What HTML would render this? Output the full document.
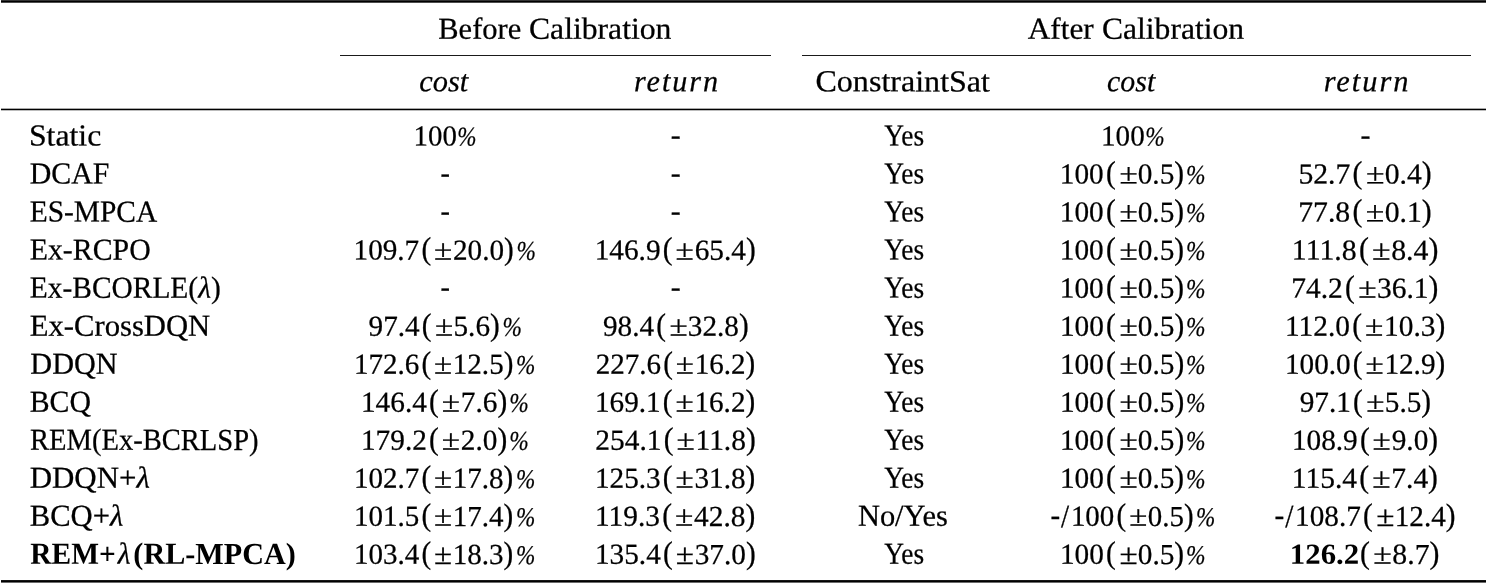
<!DOCTYPE html>
<html lang="en">
<head>
<meta charset="utf-8">
<title>Results table</title>
<style>
html,body{margin:0;padding:0;background:#fff;}
body{width:1488px;height:586px;overflow:hidden;position:relative;font-family:"Liberation Serif",serif;color:#000;}
#tbl{position:absolute;left:0;top:0;width:1488px;height:586px;overflow:hidden;}
.rule{position:absolute;background:#000;}
.r{position:absolute;left:0;width:1488px;height:38px;line-height:38px;}
.c{position:absolute;top:0;white-space:nowrap;transform-origin:0 50%;display:block;-webkit-text-stroke:.25px #000;}
.w{font-size:30.5px;}
.n{font-size:29.0px;}
.m{font-size:30.5px;font-style:italic;}
b{font-weight:bold;-webkit-text-stroke:0 transparent;}i{font-style:italic;}
.po{display:inline-block;margin:0 1.3px 0 2.2px;transform:scaleY(1.09);transform-origin:50% 35px;}.pe{display:inline-block;margin-right:2.4px;transform:scaleY(1.09);transform-origin:50% 35px;}
.pm{display:inline-block;width:18.1px;transform:scaleX(1.137);transform-origin:0 50%;margin:0 .5px 0 1.9px;}
.hy{position:relative;top:-.75px;}.sl{display:inline-block;margin:0 1.8px 0 1px;transform:translateY(1.55px) scaleY(1.13);transform-origin:50% 29px;}
.pc{display:inline-block;width:19.3px;transform:scale(.8,.93);transform-origin:0 29px;font-style:italic;}
</style>
</head>
<body>
<div id="tbl">
<div class="rule" style="left:1px;top:0;width:1485px;height:3px;background:linear-gradient(to bottom,#333 0 1px,#000 1px 2px,#4d4d4d 2px 3px)"></div>
<div class="rule" style="left:340px;top:55px;width:431px;height:1px;background:#1a1a1a"></div>
<div class="rule" style="left:802px;top:55px;width:669px;height:1px;background:#1a1a1a"></div>
<div class="rule" style="left:1px;top:108px;width:1485px;height:3px;background:linear-gradient(to bottom,#aaa 0 1px,#000 1px 2px,#bbb 2px 3px)"></div>
<div class="rule" style="left:1px;top:580px;width:1485px;height:3px;background:linear-gradient(to bottom,#141414 0 1px,#000 1px 2px,#6b6b6b 2px 3px)"></div>
<div class="r" style="top:9px"><span class="c w" id="h1a" style="left:438px;transform:translate(0.33px,0.70px) scaleX(0.9980) rotate(.05deg)">Before</span><span class="c w" id="h1a2" style="left:528px;transform:translate(0.96px,0.70px) scaleX(1.0382) rotate(.05deg)">Calibration</span><span class="c w" id="h1b" style="left:1027px;transform:translate(0.76px,0.70px) scaleX(1.0253) rotate(.05deg)">After</span><span class="c w" id="h1b2" style="left:1101px;transform:translate(0.92px,0.70px) scaleX(1.0365) rotate(.05deg)">Calibration</span></div>
<div class="r" style="top:62px"><span class="c m" id="h2a" style="left:419px;transform:translate(0.28px,0.30px) scaleX(0.9965) rotate(.05deg)">cost</span><span class="c m" id="h2b" style="left:634px;transform:translate(0.01px,0.30px) scaleX(0.9880) rotate(.05deg);letter-spacing:2.00px">return</span><span class="c w" id="h2c" style="left:815px;transform:translate(0.47px,0.30px) scaleX(1.0511) rotate(.05deg)">ConstraintSat</span><span class="c m" id="h2d" style="left:1107px;transform:translate(0.13px,0.30px) scaleX(0.9790) rotate(.05deg)">cost</span><span class="c m" id="h2e" style="left:1323px;transform:translate(0.65px,0.30px) scaleX(0.9965) rotate(.05deg);letter-spacing:2.00px">return</span></div>
<div class="r" style="top:116px"><span class="c w" id="a0" style="left:28px;transform:translate(0.94px,0.50px) scaleX(1.0412) rotate(.05deg)">Static</span><span class="c n" id="b0" style="left:413px;transform:translate(0.52px,0.50px) scaleX(0.9954) rotate(.05deg)">100<span class="pc">%</span></span><span class="c n" id="c0" style="left:670px;transform:translate(0.70px,0.50px) scaleX(1.0246) rotate(.05deg)"><span class="hy">-</span></span><span class="c w" id="d0" style="left:884px;transform:translate(0.26px,0.50px) scaleX(0.8973) rotate(.05deg)">Yes</span><span class="c n" id="e0" style="left:1101px;transform:translate(0.07px,0.50px) scaleX(1.0043) rotate(.05deg)">100<span class="pc">%</span></span><span class="c n" id="f0" style="left:1360px;transform:translate(0.55px,0.50px) scaleX(1.0309) rotate(.05deg)"><span class="hy">-</span></span></div>
<div class="r" style="top:154px"><span class="c w" id="a1" style="left:29px;transform:translate(0.76px,0.53px) scaleX(0.9783) rotate(.05deg)">DCAF</span><span class="c n" id="b1" style="left:440px;transform:translate(0.57px,0.53px) scaleX(0.9728) rotate(.05deg)"><span class="hy">-</span></span><span class="c n" id="c1" style="left:670px;transform:translate(0.70px,0.53px) scaleX(1.0246) rotate(.05deg)"><span class="hy">-</span></span><span class="c w" id="d1" style="left:884px;transform:translate(0.26px,0.53px) scaleX(0.8973) rotate(.05deg)">Yes</span><span class="c n" id="e1" style="left:1059px;transform:translate(0.85px,0.53px) scaleX(1.0091) rotate(.05deg)">100<span class="po">(</span><span class="pm">±</span>0.5<span class="pe">)</span><span class="pc">%</span></span><span class="c n" id="f1" style="left:1298px;transform:translate(0.40px,0.53px) scaleX(1.0228) rotate(.05deg)">52.7<span class="po">(</span><span class="pm">±</span>0.4<span class="pe">)</span></span></div>
<div class="r" style="top:192px"><span class="c w" id="a2" style="left:29px;transform:translate(0.80px,0.56px) scaleX(0.9634) rotate(.05deg)">ES-MPCA</span><span class="c n" id="b2" style="left:440px;transform:translate(0.57px,0.56px) scaleX(0.9728) rotate(.05deg)"><span class="hy">-</span></span><span class="c n" id="c2" style="left:670px;transform:translate(0.70px,0.56px) scaleX(1.0246) rotate(.05deg)"><span class="hy">-</span></span><span class="c w" id="d2" style="left:884px;transform:translate(0.26px,0.56px) scaleX(0.8973) rotate(.05deg)">Yes</span><span class="c n" id="e2" style="left:1059px;transform:translate(0.85px,0.56px) scaleX(1.0091) rotate(.05deg)">100<span class="po">(</span><span class="pm">±</span>0.5<span class="pe">)</span><span class="pc">%</span></span><span class="c n" id="f2" style="left:1298px;transform:translate(0.24px,0.56px) scaleX(1.0241) rotate(.05deg)">77.8<span class="po">(</span><span class="pm">±</span>0.1<span class="pe">)</span></span></div>
<div class="r" style="top:230px"><span class="c w" id="a3" style="left:29px;transform:translate(0.76px,0.59px) scaleX(0.9774) rotate(.05deg)">Ex-RCPO</span><span class="c n" id="b3" style="left:353px;transform:translate(0.60px,0.59px) scaleX(1.0052) rotate(.05deg)">109.7<span class="po">(</span><span class="pm">±</span>20.0<span class="pe">)</span><span class="pc">%</span></span><span class="c n" id="c3" style="left:594px;transform:translate(0.64px,0.59px) scaleX(1.0112) rotate(.05deg)">146.9<span class="po">(</span><span class="pm">±</span>65.4<span class="pe">)</span></span><span class="c w" id="d3" style="left:884px;transform:translate(0.26px,0.59px) scaleX(0.8973) rotate(.05deg)">Yes</span><span class="c n" id="e3" style="left:1059px;transform:translate(0.85px,0.59px) scaleX(1.0091) rotate(.05deg)">100<span class="po">(</span><span class="pm">±</span>0.5<span class="pe">)</span><span class="pc">%</span></span><span class="c n" id="f3" style="left:1291px;transform:translate(0.85px,0.59px) scaleX(1.0272) rotate(.05deg)">111.8<span class="po">(</span><span class="pm">±</span>8.4<span class="pe">)</span></span></div>
<div class="r" style="top:268px"><span class="c w" id="a4" style="left:29px;transform:translate(0.80px,0.62px) scaleX(0.9647) rotate(.05deg)">Ex-BCORLE(<i>λ</i>)</span><span class="c n" id="b4" style="left:440px;transform:translate(0.57px,0.62px) scaleX(0.9728) rotate(.05deg)"><span class="hy">-</span></span><span class="c n" id="c4" style="left:670px;transform:translate(0.70px,0.62px) scaleX(1.0246) rotate(.05deg)"><span class="hy">-</span></span><span class="c w" id="d4" style="left:884px;transform:translate(0.26px,0.62px) scaleX(0.8970) rotate(.05deg)">Yes</span><span class="c n" id="e4" style="left:1059px;transform:translate(0.85px,0.62px) scaleX(1.0091) rotate(.05deg)">100<span class="po">(</span><span class="pm">±</span>0.5<span class="pe">)</span><span class="pc">%</span></span><span class="c n" id="f4" style="left:1291px;transform:translate(0.26px,0.62px) scaleX(1.0159) rotate(.05deg)">74.2<span class="po">(</span><span class="pm">±</span>36.1<span class="pe">)</span></span></div>
<div class="r" style="top:306px"><span class="c w" id="a5" style="left:29px;transform:translate(0.81px,0.65px) scaleX(1.0045) rotate(.05deg)">Ex-CrossDQN</span><span class="c n" id="b5" style="left:368px;transform:translate(0.60px,0.65px) scaleX(1.0062) rotate(.05deg)">97.4<span class="po">(</span><span class="pm">±</span>5.6<span class="pe">)</span><span class="pc">%</span></span><span class="c n" id="c5" style="left:603px;transform:translate(0.01px,0.65px) scaleX(1.0057) rotate(.05deg)">98.4<span class="po">(</span><span class="pm">±</span>32.8<span class="pe">)</span></span><span class="c w" id="d5" style="left:884px;transform:translate(0.33px,0.65px) scaleX(0.8970) rotate(.05deg)">Yes</span><span class="c n" id="e5" style="left:1059px;transform:translate(0.90px,0.65px) scaleX(1.0097) rotate(.05deg)">100<span class="po">(</span><span class="pm">±</span>0.5<span class="pe">)</span><span class="pc">%</span></span><span class="c n" id="f5" style="left:1284px;transform:translate(0.97px,0.65px) scaleX(1.0127) rotate(.05deg)">112.0<span class="po">(</span><span class="pm">±</span>10.3<span class="pe">)</span></span></div>
<div class="r" style="top:344px"><span class="c w" id="a6" style="left:30px;transform:translate(0.37px,0.68px) scaleX(0.9893) rotate(.05deg)">DDQN</span><span class="c n" id="b6" style="left:353px;transform:translate(0.98px,0.68px) scaleX(1.0001) rotate(.05deg)">172.6<span class="po">(</span><span class="pm">±</span>12.5<span class="pe">)</span><span class="pc">%</span></span><span class="c n" id="c6" style="left:595px;transform:translate(0.64px,0.68px) scaleX(1.0013) rotate(.05deg)">227.6<span class="po">(</span><span class="pm">±</span>16.2<span class="pe">)</span></span><span class="c w" id="d6" style="left:884px;transform:translate(0.33px,0.68px) scaleX(0.8970) rotate(.05deg)">Yes</span><span class="c n" id="e6" style="left:1059px;transform:translate(0.90px,0.68px) scaleX(1.0097) rotate(.05deg)">100<span class="po">(</span><span class="pm">±</span>0.5<span class="pe">)</span><span class="pc">%</span></span><span class="c n" id="f6" style="left:1284px;transform:translate(0.99px,0.68px) scaleX(1.0058) rotate(.05deg)">100.0<span class="po">(</span><span class="pm">±</span>12.9<span class="pe">)</span></span></div>
<div class="r" style="top:382px"><span class="c w" id="a7" style="left:29px;transform:translate(0.77px,0.71px) scaleX(0.9762) rotate(.05deg)">BCQ</span><span class="c n" id="b7" style="left:360px;transform:translate(0.98px,0.71px) scaleX(1.0095) rotate(.05deg)">146.4<span class="po">(</span><span class="pm">±</span>7.6<span class="pe">)</span><span class="pc">%</span></span><span class="c n" id="c7" style="left:594px;transform:translate(0.99px,0.71px) scaleX(1.0058) rotate(.05deg)">169.1<span class="po">(</span><span class="pm">±</span>16.2<span class="pe">)</span></span><span class="c w" id="d7" style="left:884px;transform:translate(0.33px,0.71px) scaleX(0.8970) rotate(.05deg)">Yes</span><span class="c n" id="e7" style="left:1059px;transform:translate(0.90px,0.71px) scaleX(1.0097) rotate(.05deg)">100<span class="po">(</span><span class="pm">±</span>0.5<span class="pe">)</span><span class="pc">%</span></span><span class="c n" id="f7" style="left:1299px;transform:translate(0.71px,0.71px) scaleX(1.0081) rotate(.05deg)">97.1<span class="po">(</span><span class="pm">±</span>5.5<span class="pe">)</span></span></div>
<div class="r" style="top:420px"><span class="c w" id="a8" style="left:30px;transform:translate(0.07px,0.74px) scaleX(0.9363) rotate(.05deg)">REM(Ex-BCRLSP)</span><span class="c n" id="b8" style="left:360px;transform:translate(0.98px,0.74px) scaleX(1.0095) rotate(.05deg)">179.2<span class="po">(</span><span class="pm">±</span>2.0<span class="pe">)</span><span class="pc">%</span></span><span class="c n" id="c8" style="left:595px;transform:translate(0.33px,0.74px) scaleX(1.0135) rotate(.05deg)">254.1<span class="po">(</span><span class="pm">±</span>11.8<span class="pe">)</span></span><span class="c w" id="d8" style="left:884px;transform:translate(0.33px,0.74px) scaleX(0.8970) rotate(.05deg)">Yes</span><span class="c n" id="e8" style="left:1059px;transform:translate(0.90px,0.74px) scaleX(1.0097) rotate(.05deg)">100<span class="po">(</span><span class="pm">±</span>0.5<span class="pe">)</span><span class="pc">%</span></span><span class="c n" id="f8" style="left:1291px;transform:translate(0.92px,0.74px) scaleX(1.0089) rotate(.05deg)">108.9<span class="po">(</span><span class="pm">±</span>9.0<span class="pe">)</span></span></div>
<div class="r" style="top:458px"><span class="c w" id="a9" style="left:29px;transform:translate(0.76px,0.77px) scaleX(1.0129) rotate(.05deg)">DDQN+<i>λ</i></span><span class="c n" id="b9" style="left:353px;transform:translate(0.98px,0.77px) scaleX(1.0000) rotate(.05deg)">102.7<span class="po">(</span><span class="pm">±</span>17.8<span class="pe">)</span><span class="pc">%</span></span><span class="c n" id="c9" style="left:594px;transform:translate(0.99px,0.77px) scaleX(1.0060) rotate(.05deg)">125.3<span class="po">(</span><span class="pm">±</span>31.8<span class="pe">)</span></span><span class="c w" id="d9" style="left:884px;transform:translate(0.33px,0.77px) scaleX(0.8970) rotate(.05deg)">Yes</span><span class="c n" id="e9" style="left:1059px;transform:translate(0.90px,0.77px) scaleX(1.0094) rotate(.05deg)">100<span class="po">(</span><span class="pm">±</span>0.5<span class="pe">)</span><span class="pc">%</span></span><span class="c n" id="f9" style="left:1291px;transform:translate(0.85px,0.77px) scaleX(1.0164) rotate(.05deg)">115.4<span class="po">(</span><span class="pm">±</span>7.4<span class="pe">)</span></span></div>
<div class="r" style="top:496px"><span class="c w" id="a10" style="left:29px;transform:translate(0.81px,0.80px) scaleX(1.0033) rotate(.05deg)">BCQ+<i>λ</i></span><span class="c n" id="b10" style="left:353px;transform:translate(0.98px,0.80px) scaleX(1.0000) rotate(.05deg)">101.5<span class="po">(</span><span class="pm">±</span>17.4<span class="pe">)</span><span class="pc">%</span></span><span class="c n" id="c10" style="left:594px;transform:translate(0.97px,0.80px) scaleX(1.0127) rotate(.05deg)">119.3<span class="po">(</span><span class="pm">±</span>42.8<span class="pe">)</span></span><span class="c w" id="d10" style="left:857px;transform:translate(0.92px,0.80px) scaleX(0.9981) rotate(.05deg)">No/Yes</span><span class="c n" id="e10" style="left:1050px;transform:translate(0.45px,0.80px) scaleX(0.9969) rotate(.05deg)"><span class="hy">-</span><span class="sl">/</span>100<span class="po">(</span><span class="pm">±</span>0.5<span class="pe">)</span><span class="pc">%</span></span><span class="c n" id="f10" style="left:1274px;transform:translate(0.43px,0.80px) scaleX(1.0071) rotate(.05deg)"><span class="hy">-</span><span class="sl">/</span>108.7<span class="po">(</span><span class="pm">±</span>12.4<span class="pe">)</span></span></div>
<div class="r" style="top:534px"><span class="c w" id="a11" style="left:30px;transform:translate(0.29px,0.83px) scaleX(0.9640) rotate(.05deg)"><b>REM+</b></span><span class="c w" id="a11b" style="left:117px;transform:translate(0.83px,0.83px) scaleX(0.9624) rotate(.05deg)"><i>λ</i></span><span class="c w" id="a11c" style="left:133px;transform:translate(0.38px,0.83px) scaleX(0.9884) rotate(.05deg)"><b>(RL-MPCA)</b></span><span class="c n" id="b11" style="left:353px;transform:translate(0.98px,0.83px) scaleX(1.0000) rotate(.05deg)">103.4<span class="po">(</span><span class="pm">±</span>18.3<span class="pe">)</span><span class="pc">%</span></span><span class="c n" id="c11" style="left:594px;transform:translate(0.98px,0.83px) scaleX(1.0086) rotate(.05deg)">135.4<span class="po">(</span><span class="pm">±</span>37.0<span class="pe">)</span></span><span class="c w" id="d11" style="left:884px;transform:translate(0.33px,0.83px) scaleX(0.8970) rotate(.05deg)">Yes</span><span class="c n" id="e11" style="left:1059px;transform:translate(0.90px,0.83px) scaleX(1.0094) rotate(.05deg)">100<span class="po">(</span><span class="pm">±</span>0.5<span class="pe">)</span><span class="pc">%</span></span><span class="c n" id="f11" style="left:1289px;transform:translate(0.87px,0.83px) scaleX(1.0629) rotate(.05deg)"><b>126.2</b></span><span class="c n" id="f11b" style="left:1357px;transform:translate(0.87px,0.83px) scaleX(1.0251) rotate(.05deg)"><span class="po">(</span><span class="pm">±</span>8.7<span class="pe">)</span></span></div>
</div>
</body>
</html>
